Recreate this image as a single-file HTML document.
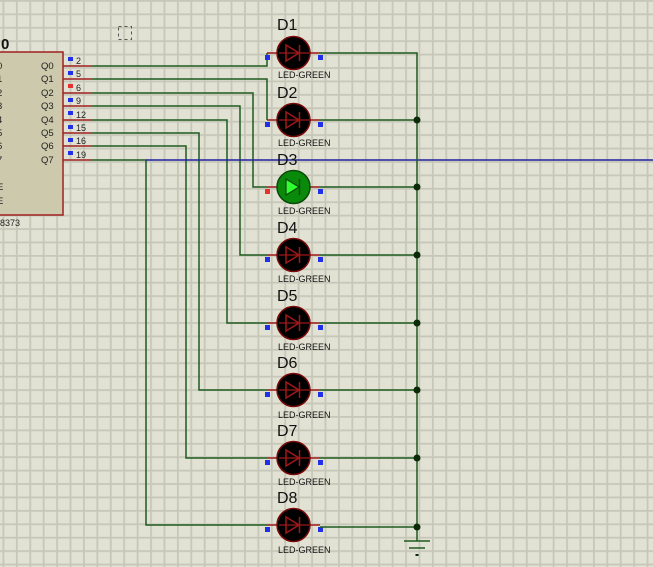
<!DOCTYPE html>
<html><head><meta charset="utf-8"><style>html,body{margin:0;padding:0;background:#e2e2d4}svg{display:block}</style></head>
<body>
<svg width="653" height="567" viewBox="0 0 653 567" xmlns="http://www.w3.org/2000/svg" font-family="Liberation Sans, sans-serif">
<defs>
<pattern id="g" x="2.5" y="0" width="13.42" height="13.42" patternUnits="userSpaceOnUse">
<rect width="13.42" height="13.42" fill="#e2e2d4"/>
<rect x="0" y="0" width="1.8" height="13.42" fill="#c6c7b8"/>
<rect x="0" y="0" width="13.42" height="1.8" fill="#c6c7b8"/>
</pattern>
<g id="led">
<line x1="267" y1="0" x2="320" y2="0" stroke="#a01818" stroke-width="1.5"/>
<circle cx="293.5" cy="0" r="16.5" fill="#000" stroke="#7a0a0a" stroke-width="1.5"/>
<path d="M286 -8 L286 8 L299 0 Z" fill="none" stroke="#a01818" stroke-width="1.5"/>
<line x1="299.5" y1="-8" x2="299.5" y2="8" stroke="#a01818" stroke-width="1.5"/>
<line x1="279" y1="0" x2="309" y2="0" stroke="#a01818" stroke-width="1.2"/>
<rect x="265" y="2" width="5" height="5" fill="#2030e8"/>
<rect x="318" y="2" width="5" height="5" fill="#2030e8"/>
</g>
</defs>
<rect width="653" height="567" fill="url(#g)"/>
<rect x="118.5" y="26.5" width="13" height="13" fill="none" stroke="#555" stroke-dasharray="3,3"/>
<rect x="-5" y="52" width="68" height="163" fill="#cdc9ad" stroke="#a02020" stroke-width="1.5"/>
<text x="1" y="49" font-size="15" font-weight="bold" fill="#111">0</text>
<text x="0" y="226" font-size="9" fill="#222">8373</text>
<g font-size="9.5" fill="#222">
<text x="41" y="69">Q0</text><text x="41" y="82">Q1</text><text x="41" y="96">Q2</text><text x="41" y="109">Q3</text>
<text x="41" y="123">Q4</text><text x="41" y="136">Q5</text><text x="41" y="149">Q6</text><text x="41" y="163">Q7</text>
<text x="-3" y="69">0</text><text x="-3" y="82">1</text><text x="-3" y="96">2</text><text x="-3" y="109">3</text>
<text x="-3" y="123">4</text><text x="-3" y="136">5</text><text x="-3" y="149">6</text><text x="-3" y="163">7</text>
<text x="-3" y="190">E</text><text x="-3" y="204">E</text>
</g>
<g stroke="#a02020" stroke-width="1.5">
<line x1="63" y1="66" x2="92" y2="66"/><line x1="63" y1="79" x2="92" y2="79"/><line x1="63" y1="93" x2="92" y2="93"/><line x1="63" y1="106" x2="92" y2="106"/>
<line x1="63" y1="120" x2="92" y2="120"/><line x1="63" y1="133" x2="92" y2="133"/><line x1="63" y1="146" x2="92" y2="146"/><line x1="63" y1="160" x2="92" y2="160"/>
</g>
<g font-size="9" fill="#222">
<text x="76" y="64">2</text><text x="76" y="77">5</text><text x="76" y="91">6</text><text x="76" y="104">9</text>
<text x="76" y="118">12</text><text x="76" y="131">15</text><text x="76" y="144">16</text><text x="76" y="158">19</text>
</g>
<g fill="#2030e8">
<rect x="68" y="57" width="5" height="4"/><rect x="68" y="71" width="5" height="4"/><rect x="68" y="98" width="5" height="4"/>
<rect x="68" y="111" width="5" height="4"/><rect x="68" y="125" width="5" height="4"/><rect x="68" y="138" width="5" height="4"/><rect x="68" y="151" width="5" height="4"/>
</g>
<rect x="68" y="84" width="5" height="4" fill="#e83030"/>
<g fill="none" stroke="#1e5a1e" stroke-width="1.5">
<polyline points="92,66 267,66 267,53"/>
<polyline points="92,79 267,79 267,120"/>
<polyline points="92,93 253,93 253,187 267,187"/>
<polyline points="92,106 240,106 240,255 267,255"/>
<polyline points="92,120 227,120 227,323 267,323"/>
<polyline points="92,133 199,133 199,390 267,390"/>
<polyline points="92,146 186,146 186,458 267,458"/>
<polyline points="92,160 146,160 146,525 267,525"/>
</g>
<line x1="146" y1="160" x2="653" y2="160" stroke="#2020a0" stroke-width="1.5"/>
<use href="#led" y="53"/><use href="#led" y="120"/>
<g transform="translate(0,187)">
<line x1="267" y1="0" x2="320" y2="0" stroke="#a01818" stroke-width="1.5"/>
<circle cx="293.5" cy="0" r="16.5" fill="#0a8a0a" stroke="#0a4a0a" stroke-width="1.5"/>
<path d="M286 -8 L286 8 L299 0 Z" fill="#30ff30" stroke="#0a4a0a" stroke-width="1.2"/>
<line x1="299.5" y1="-8" x2="299.5" y2="8" stroke="#0a4a0a" stroke-width="1.5"/>
<rect x="265" y="2" width="5" height="5" fill="#e83030"/>
<rect x="318" y="2" width="5" height="5" fill="#2030e8"/>
</g>
<use href="#led" y="255"/><use href="#led" y="323"/><use href="#led" y="390"/><use href="#led" y="458"/><use href="#led" y="525"/>
<g font-size="16" fill="#111">
<text x="277" y="30">D1</text><text x="277" y="98">D2</text><text x="277" y="165">D3</text><text x="277" y="233">D4</text>
<text x="277" y="301">D5</text><text x="277" y="368">D6</text><text x="277" y="436">D7</text><text x="277" y="503">D8</text>
</g>
<g font-size="9" fill="#111">
<text x="278" y="78">LED-GREEN</text><text x="278" y="146">LED-GREEN</text><text x="278" y="214">LED-GREEN</text><text x="278" y="282">LED-GREEN</text>
<text x="278" y="350">LED-GREEN</text><text x="278" y="418">LED-GREEN</text><text x="278" y="485">LED-GREEN</text><text x="278" y="553">LED-GREEN</text>
</g>
<g fill="none" stroke="#1e5a1e" stroke-width="1.5">
<polyline points="320,53 417,53 417,541"/>
<line x1="320" y1="120" x2="417" y2="120"/><line x1="320" y1="187" x2="417" y2="187"/><line x1="320" y1="255" x2="417" y2="255"/>
<line x1="320" y1="323" x2="417" y2="323"/><line x1="320" y1="390" x2="417" y2="390"/><line x1="320" y1="458" x2="417" y2="458"/>
<line x1="320" y1="527" x2="417" y2="527"/>
<line x1="404" y1="541" x2="430" y2="541"/><line x1="409" y1="548" x2="425" y2="548"/>
</g>
<g fill="#0a2a0a">
<circle cx="417" cy="120" r="3.5"/><circle cx="417" cy="187" r="3.5"/><circle cx="417" cy="255" r="3.5"/><circle cx="417" cy="323" r="3.5"/>
<circle cx="417" cy="390" r="3.5"/><circle cx="417" cy="458" r="3.5"/><circle cx="417" cy="527" r="3.5"/>
<rect x="415.5" y="554" width="3" height="2"/>
</g>
</svg>
</body></html>
